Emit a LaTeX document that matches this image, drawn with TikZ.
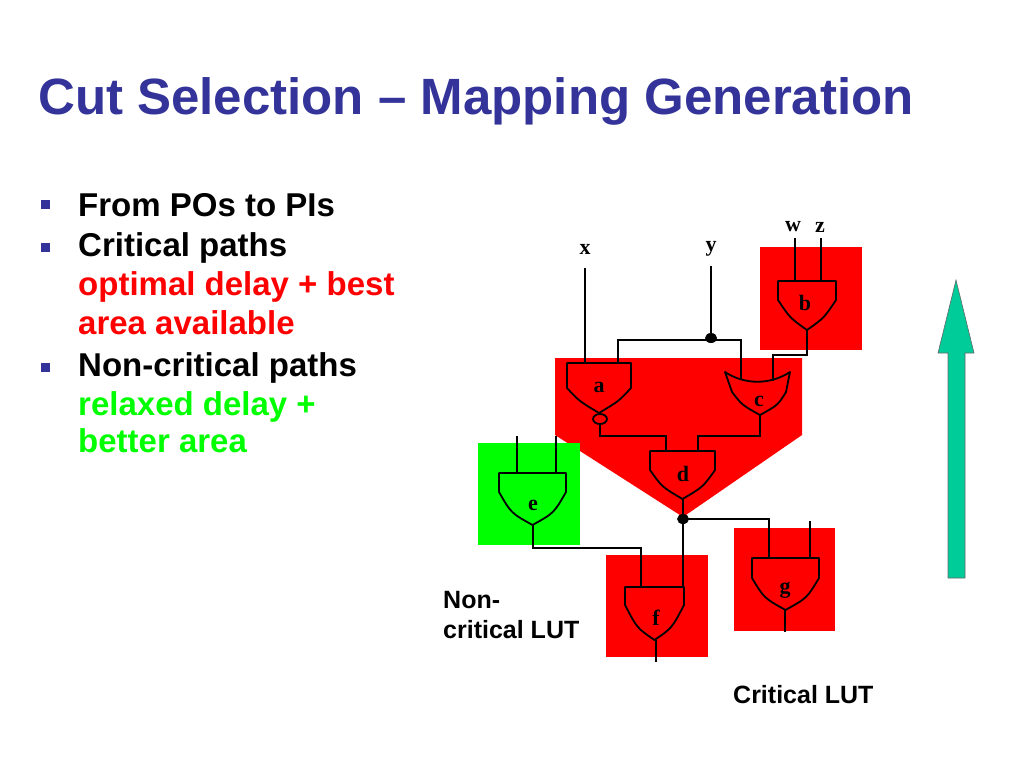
\documentclass[tikz,border=0pt]{standalone}
\usepackage{fontspec}
\setmainfont{Liberation Sans}
\newfontfamily\serifb{Liberation Serif}
\begin{document}
\begin{tikzpicture}[x=1pt,y=-1pt,
  w/.style={line width=1.8pt,black},
  glab/.style={font=\serifb\bfseries\fontsize{22}{22}\selectfont,inner sep=0},
  txt/.style={anchor=west,font=\bfseries\fontsize{33}{35}\selectfont,inner sep=0},
  sm/.style={anchor=west,font=\bfseries\fontsize{25}{27}\selectfont,inner sep=0}]
\definecolor{tblue}{RGB}{51,51,153}
\definecolor{lred}{RGB}{255,0,0}
\definecolor{lgreen}{RGB}{0,255,0}
\definecolor{teal2}{RGB}{0,204,153}
\useasboundingbox (0,0) rectangle (1024,768);
\fill[white] (0,0) rectangle (1024,768);
\node[anchor=west,font=\bfseries\fontsize{51}{53}\selectfont,text=tblue,inner sep=0] (title) at (38,101) {Cut Selection – Mapping Generation};
\foreach \yy in {205,248,368}{\fill[tblue] (41,\yy-5) rectangle (50,\yy+4);}
\node[txt] (t1) at (78,205) {From POs to PIs};
\node[txt] (t2) at (78,248) {Critical paths};
\node[txt,text=lred] (t3) at (78,287) {optimal delay + best};
\node[txt,text=lred] (t4) at (78,323) {area available};
\node[txt] (t5) at (78,368) {Non-critical paths};
\node[txt,text=lgreen] (t6) at (78,407) {relaxed delay +};
\node[txt,text=lgreen] (t7) at (78,441) {better area};
% regions
\fill[lred] (555,358) -- (802,358) -- (802,435) -- (683,517) -- (555,435) -- cycle;
\fill[lred] (760,247) rectangle (862,350);
\fill[lgreen] (478,443) rectangle (580,545);
\fill[lred] (606,555) rectangle (708,657);
\fill[lred] (734,528) rectangle (835,631);
% arrow
\fill[teal2,draw=black!60,line width=0.6pt] (948,578) -- (948,353) -- (938,353) -- (956,280) -- (974,353) -- (965,353) -- (965,578) -- cycle;
% gates
\newcommand\gate[5]{% l r top side point
  \draw[w,line join=round] (#1,#3) -- (#2,#3) -- (#2,#4) .. controls ({#2-12},{#5-12}) .. ({(#1+#2)/2},#5) .. controls ({#1+12},{#5-12}) .. (#1,#4) -- cycle;}
\gate{567}{631}{363}{388}{413}
\gate{778}{836}{281}{300}{330}
\gate{650}{715}{451}{470}{499}
\gate{499}{566}{473}{492}{525}
\gate{625}{684}{587}{605}{640}
\gate{752}{819}{558}{578}{610}
% OR gate c
\draw[w,line join=round] (725,372) .. controls (745,385) and (770,385) .. (790,372) -- (786,392) .. controls (778,405) .. (760,415) .. controls (742,405) .. (732,392) -- cycle;
\draw[w] (600,419) ellipse (7 and 5);
\node[glab] (ga) at (599,387) {a};
\node[glab] (gb) at (805,303) {b};
\node[glab] (gc) at (759,401) {c};
\node[glab] (gd) at (683,474) {d};
\node[glab] (ge) at (533,505) {e};
\node[glab] (gf) at (656,618) {f};
\node[glab] (gg) at (785,590) {g};
\node[glab] (lx) at (585,249) {x};
\node[glab] (ly) at (711,249) {y};
\node[glab] (lw) at (793,227) {w};
\node[glab] (lz) at (820,227) {z};
% wires
\draw[w] (585,268) -- (585,363);
\draw[w] (711,266) -- (711,338);
\draw[w] (618,363) |- (741,340) -- (741,380);
\fill (711,338) ellipse (6 and 5);
\draw[w] (795,238) -- (795,281);
\draw[w] (821,238) -- (821,281);
\draw[w] (807,330) -- (807,355) -| (773,381);
\draw[w] (600,424) -- (600,436) -| (666,451);
\draw[w] (760,415) -- (760,436) -| (698,451);
\draw[w] (683,499) -- (683,587);
\fill (683,519) ellipse (6 and 5);
\draw[w] (683,519) -| (769,558);
\draw[w] (810,521) -- (810,558);
\draw[w] (517,436) -- (517,473);
\draw[w] (556,436) -- (556,473);
\draw[w] (533,525) -- (533,548) -| (641,587);
\draw[w] (656,640) -- (656,662);
\draw[w] (785,610) -- (785,632);
\node[sm] (n1) at (443,600) {Non-};
\node[sm] (n2) at (443,630) {critical LUT};
\node[sm] (n3) at (733,695) {Critical LUT};
\end{tikzpicture}
\end{document}
